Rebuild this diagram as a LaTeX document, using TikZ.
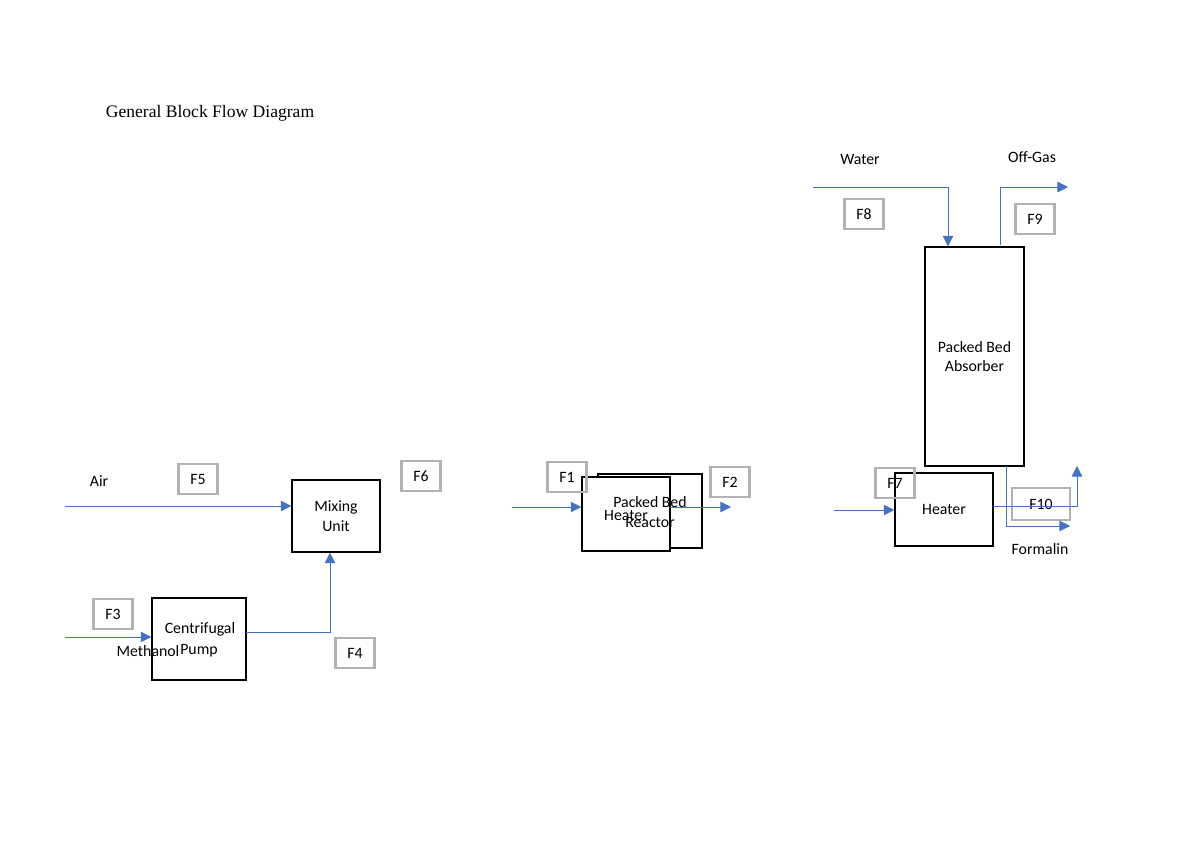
\documentclass[tikz,border=0pt]{standalone}
\usepackage{fontspec}
\setmainfont{Carlito}
\newfontfamily\titlefont{Liberation Serif}
\usetikzlibrary{arrows.meta}
\tikzset{
  unit/.style={draw=black,thick,fill=white,inner sep=0pt,align=center,font=\small},
  tag/.style={draw=gray!60,line width=1.2pt,minimum width=0.78cm,minimum height=0.6cm,font=\small},
  flow/.style={draw={rgb,255:red,68;green,114;blue,196},-{Triangle[length=6pt,width=6pt]}},
  lbl/.style={font=\small}
}
\begin{document}
\begin{tikzpicture}[x=0.02cm,y=-0.02cm]
% Canvas
\useasboundingbox (0,0) rectangle (1200,848);

% Title
\node[font=\titlefont] (title) at (210,113) {General Block Flow Diagram};

% Units
\node[unit,minimum width=1.76cm,minimum height=1.44cm] (mix) at (336,516) {Mixing\\Unit};
\node[unit,minimum width=1.88cm,minimum height=1.64cm] (pump) at (199,639) {};
\node[lbl] (pumptop) at (200,629) {Centrifugal};
\node[lbl] (pumpbot) at (199,651) {Pump};
\node[lbl] (meth) at (148,651) {Methanol};
\node[unit,minimum width=2.08cm,minimum height=1.48cm] (reac) at (650,511) {};
\node[unit,minimum width=1.76cm,minimum height=1.48cm] (heatA) at (626,514) {};
\node[lbl] (heatAtxt) at (626,515) {Heater};
\node[lbl,align=center] (reactxt) at (650,512) {Packed Bed\\Reactor};
\node[unit,minimum width=1.98cm,minimum height=4.38cm] (abs) at (974.5,356.5) {Packed Bed\\Absorber};
\node[unit,minimum width=1.96cm,minimum height=1.46cm] (heatB) at (944,509.5) {Heater};

% Stream labels
\node[lbl] (air) at (99,481) {Air};
\node[lbl] (water) at (860,159) {Water};
\node[lbl] (offgas) at (1032,157) {Off-Gas};
\node[lbl] (formalin) at (1040,549) {Formalin};

% Flow tags
\node[tag] (F5) at (198,479) {F5};
\node[tag] (F6) at (421,476) {F6};
\node[tag] (F3) at (113,614) {F3};
\node[tag] (F4) at (355,653) {F4};
\node[tag] (F1) at (567,477) {F1};
\node[tag] (F2) at (730,482) {F2};
\node[tag] (F7) at (895,483) {F7};
\node[tag] (F8) at (864,214) {F8};
\node[tag] (F9) at (1035,219) {F9};
\node[tag,minimum width=1.16cm,minimum height=0.64cm] (F10) at (1041,504) {F10};

% Free ends
\coordinate (airin) at (65,506);
\coordinate (methin) at (65,637);
\coordinate (pumpout) at (246,632);
\coordinate (bendA) at (330,632);
\coordinate (reacin) at (512,507);
\coordinate (reacout) at (670,507);
\coordinate (reacend) at (731,507);
\coordinate (heatin) at (834,510);
\coordinate (waterin) at (813,187);
\coordinate (bendW) at (948,187);
\coordinate (gasout) at (1000,245);
\coordinate (bendG) at (1000,187);
\coordinate (gasend) at (1068,187);
\coordinate (hout) at (993,506);
\coordinate (bendH) at (1077,506);
\coordinate (hend) at (1077,466);
\coordinate (aout) at (1006,466);
\coordinate (bendF) at (1006,526);
\coordinate (fend) at (1070,526);

% Connectors
\draw[flow] (airin) -- (airin -| mix.west);
\draw[flow] (methin) -- (methin -| pump.west);
\draw[flow] (pumpout) -- (bendA) -- (bendA |- mix.south);
\draw[flow] (reacin) -- (reacin -| heatA.west);
\draw[flow] (reacout) -- (reacend);
\draw[flow] (heatin) -- (heatin -| heatB.west);
\draw[flow] (waterin) -- (bendW) -- (bendW |- abs.north);
\draw[flow] (gasout) -- (bendG) -- (gasend);
\draw[flow] (hout) -- (bendH) -- (hend);
\draw[flow] (aout) -- (bendF) -- (fend);
\end{tikzpicture}
\end{document}
